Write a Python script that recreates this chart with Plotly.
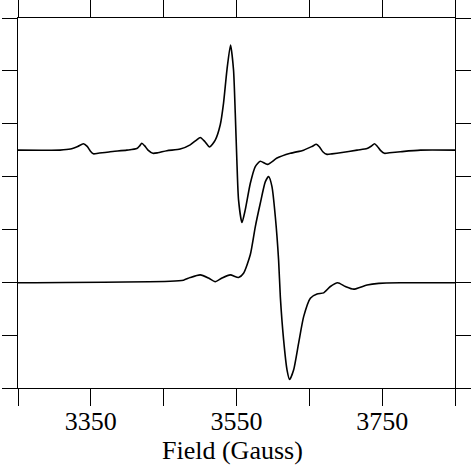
import plotly.graph_objects as go

# Upper spectrum (field in Gauss, signal in arbitrary units)
upper_field = [3250, 3307.7, 3322.0, 3332.0, 3339.8, 3345.0, 3349.5, 3353.5, 3360.0,
               3376.5, 3399.4, 3413.2, 3417.0, 3420.0, 3424.0, 3428.5, 3435.2, 3442.0,
               3454.4, 3472.7, 3486.4, 3495.0, 3500.2, 3506.0, 3513.0, 3520.8,
               3527.7, 3532.2, 3536.9, 3541.8, 3545.9, 3548.3, 3550.6, 3552.8, 3557.5,
               3562.0, 3568.9, 3575.8, 3582.6, 3592.7, 3605.6, 3623.9, 3642.2, 3653.7,
               3659.6, 3664.0, 3668.5, 3674.3, 3681.0, 3692.6, 3715.6, 3729.3, 3735.5,
               3739.4, 3743.5, 3748.0, 3753.1, 3760.0, 3775.1, 3802.6, 3850]
upper_signal = [4.50, 4.50, 4.52, 4.57, 4.62, 4.57, 4.48, 4.43, 4.44,
                4.47, 4.50, 4.53, 4.58, 4.63, 4.58, 4.50, 4.44, 4.45,
                4.49, 4.52, 4.60, 4.69, 4.74, 4.67, 4.56, 4.69,
                4.98, 5.39, 6.02, 6.49, 6.02, 5.20, 4.26, 3.56, 3.13,
                3.37, 3.87, 4.19, 4.29, 4.23, 4.35, 4.44, 4.50, 4.57,
                4.61, 4.56, 4.47, 4.42, 4.43, 4.45, 4.50, 4.53, 4.58,
                4.62, 4.57, 4.49, 4.44, 4.45, 4.47, 4.50, 4.50]

# Lower spectrum
lower_field = [3250, 3458.9, 3477.2, 3486.4, 3500.2, 3511.6, 3520.8, 3530.0, 3541.4,
               3552.8, 3559.7, 3568.9, 3575.8, 3582.6, 3589.5, 3594.1, 3598.7, 3603.3,
               3607.8, 3610.2, 3614.7, 3619.4, 3622.9, 3628.4, 3635.3, 3642.2, 3651.4,
               3660.6, 3669.7, 3678.9, 3688.9, 3699.5, 3710.9, 3729.3, 3745.3, 3775.1,
               3850]
lower_signal = [1.99, 2.02, 2.04, 2.09, 2.14, 2.08, 2.01, 2.08, 2.14,
                2.09, 2.17, 2.52, 3.05, 3.49, 3.90, 4.00, 3.81, 3.24,
                2.42, 1.72, 0.91, 0.34, 0.16, 0.34, 0.85, 1.35, 1.70,
                1.78, 1.80, 1.92, 1.99, 1.92, 1.87, 1.95, 1.98, 1.99,
                1.99]

tick_values = [3250, 3350, 3450, 3550, 3650, 3750, 3850]
tick_labels = ["", "3350", "", "3550", "", "3750", ""]
x_title = "Field (Gauss)"

fig = go.Figure()
for xs, ys in [(upper_field, upper_signal), (lower_field, lower_signal)]:
    fig.add_trace(go.Scatter(
        x=xs, y=ys, mode="lines",
        line=dict(color="black", width=1.6, shape="spline", smoothing=0.6),
        showlegend=False, hoverinfo="skip",
    ))

fig.update_layout(
    width=474, height=468,
    margin=dict(l=18, r=19, t=18, b=80),
    paper_bgcolor="white", plot_bgcolor="white",
    font=dict(family="Liberation Serif", color="black"),
)
fig.update_xaxes(
    range=[3250, 3850], tickvals=tick_values, ticktext=tick_labels,
    ticks="outside", ticklen=17, tickwidth=1.4, tickcolor="black",
    showline=True, linecolor="black", linewidth=1.4, mirror="allticks",
    showgrid=False, zeroline=False, automargin=False,
    tickfont=dict(size=26), ticklabelstandoff=-7,
)
fig.update_yaxes(
    range=[0, 7], dtick=1, tick0=0, showticklabels=False,
    ticks="outside", ticklen=15, tickwidth=1.4, tickcolor="black",
    showline=True, linecolor="black", linewidth=1.4, mirror="allticks",
    showgrid=False, zeroline=False, automargin=False,
)
fig.add_annotation(
    text=x_title, xref="paper", yref="paper", x=0.49, y=-0.170,
    xanchor="center", yanchor="middle", showarrow=False,
    font=dict(size=26),
)

# the page's default body margin would push the figure off the window
fig.write_html("out.html", config={"displayModeBar": False},
               post_script="document.body.style.margin='0';")
